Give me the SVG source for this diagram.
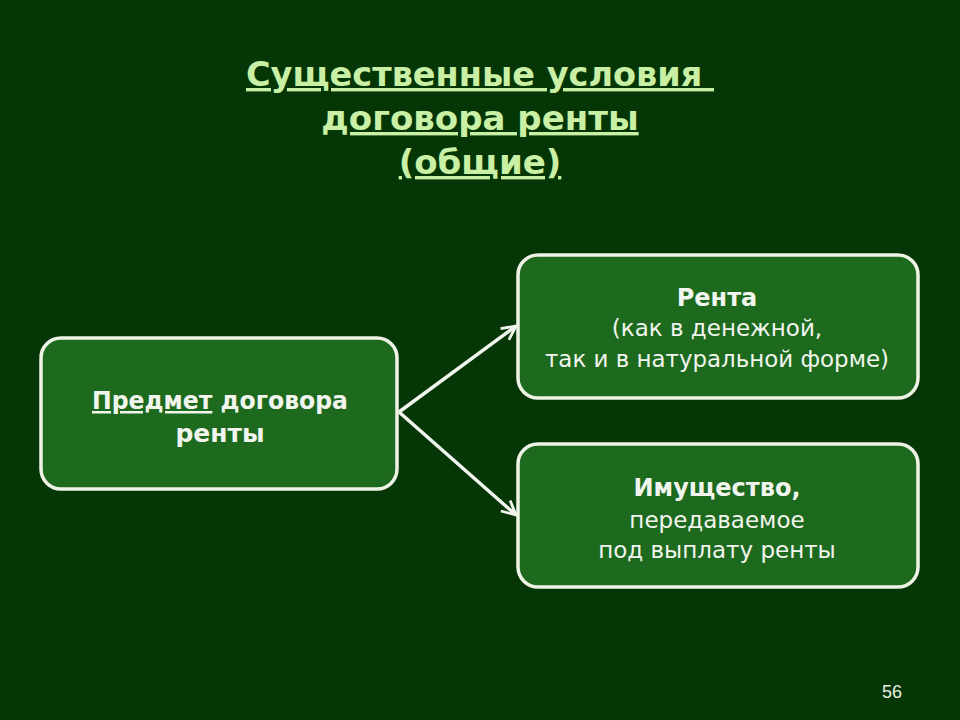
<svg xmlns="http://www.w3.org/2000/svg" width="960" height="720" viewBox="0 0 960 720">
<defs>
<style>
.t{font-family:"DejaVu Sans","Verdana",sans-serif;fill:#c9f0a4;font-weight:bold;font-size:34px;text-anchor:middle;text-decoration:underline}
.box{fill:#1d6a1f;stroke:#eef3e6;stroke-width:3.5}
.n{font-family:"DejaVu Sans","Verdana",sans-serif;fill:#f2f5ee;font-size:23px;text-anchor:middle}
.b{font-weight:bold;font-size:24px}
.c{stroke:#f2f5ee;stroke-width:3.5;fill:none}
</style>
<marker id="ah" viewBox="0 0 10 10" refX="9" refY="5" markerWidth="5" markerHeight="5" orient="auto" markerUnits="strokeWidth">
<path d="M1,1 L9,5 L1,9" fill="none" stroke="#f2f5ee" stroke-width="1.6"/>
</marker>
</defs>
<rect width="960" height="720" fill="#053606"/>
<g id="title">
<text class="t" x="480" y="86" textLength="468" lengthAdjust="spacingAndGlyphs" xml:space="preserve">Существенные условия </text>
<text class="t" x="480" y="130">договора ренты</text>
<text class="t" x="480" y="174">(общие)</text>
</g>
<g id="connectors">
<line class="c" x1="399" y1="412" x2="516" y2="326" marker-end="url(#ah)"/>
<line class="c" x1="399" y1="412" x2="516" y2="515" marker-end="url(#ah)"/>
</g>
<g id="subject">
<rect class="box" x="41" y="338" width="356" height="151" rx="20"/>
<text class="n b" x="220" y="409" font-size="25" style="font-size:25px" textLength="256" lengthAdjust="spacingAndGlyphs"><tspan text-decoration="underline">Предмет</tspan> договора</text>
<text class="n b" x="220" y="442" style="font-size:25px">ренты</text>
</g>
<g id="renta">
<rect class="box" x="518" y="255" width="400" height="143" rx="20"/>
<text class="n b" x="717" y="306">Рента</text>
<text class="n" x="717" y="336">(как в денежной,</text>
<text class="n" x="717" y="367" textLength="344" lengthAdjust="spacingAndGlyphs">так и в натуральной форме)</text>
</g>
<g id="property">
<rect class="box" x="518" y="444" width="400" height="143" rx="20"/>
<text class="n b" x="717" y="496">Имущество,</text>
<text class="n" x="717" y="528">передаваемое</text>
<text class="n" x="717" y="558">под выплату ренты</text>
</g>
<text x="892" y="698" font-family="Liberation Sans, Arial, sans-serif" font-size="18" fill="#e8f0e0" text-anchor="middle">56</text>
</svg>
